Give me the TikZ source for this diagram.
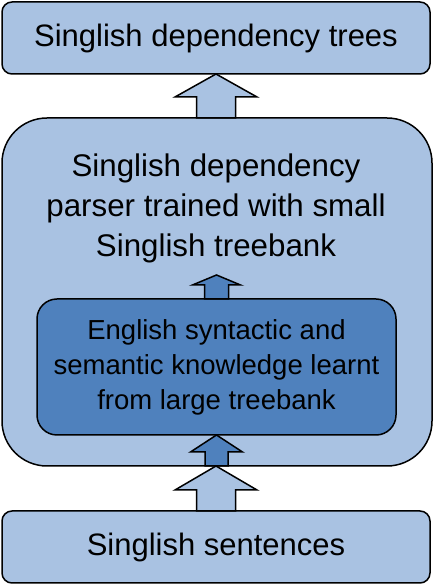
\documentclass[tikz,border=0pt]{standalone}
\usepackage{fontspec}
\setmainfont{Liberation Sans}
\usetikzlibrary{calc}
\definecolor{lightblue}{RGB}{169,194,226}
\definecolor{darkblue}{RGB}{79,129,189}
\tikzset{
  box/.style={draw=black,line width=1.5pt,fill=lightblue,inner sep=0pt,outer sep=0pt,align=center},
  lightarrow/.style={draw=black,line width=1.5pt,fill=lightblue,line join=miter},
  darkarrow/.style={draw=black,line width=1.5pt,fill=darkblue,line join=miter}
}
\begin{document}
\begin{tikzpicture}[x=1pt,y=1pt]
	\useasboundingbox (0,0) rectangle (434,586);
	% boxes
	\node[box,rounded corners=10pt,minimum width=428pt,minimum height=72pt,
		font=\fontsize{31}{40}\selectfont] (trees) at (216,548) {Singlish dependency trees};
	\node[box,rounded corners=45pt,minimum width=430pt,minimum height=348pt] (parser) at (217,294) {};
	\node[align=center,font=\fontsize{31.3}{40}\selectfont] (parsertext) at (216,378)
		{Singlish dependency\\parser trained with small\\Singlish treebank};
	\node[box,fill=darkblue,rounded corners=20pt,minimum width=359pt,minimum height=136pt,
		font=\fontsize{27.5}{35}\selectfont] (english) at (216.5,219)
		{English syntactic and\\semantic knowledge learnt\\from large treebank};
	\node[box,rounded corners=10pt,minimum width=428pt,minimum height=72pt,
		font=\fontsize{31}{40}\selectfont] (sentences) at (216,39) {Singlish sentences};
	\coordinate (tip) at (216.5,311);
	% arrows
	\draw[lightarrow] ($(sentences.north)+(-19.5,0)$) -- ++(0,21) -- ++(-21.5,0)
		-- ($(parser.south)+(-1,0)$) -- ($(sentences.north)+(41,21)$) -- ++(-21.5,0)
		-- ($(sentences.north)+(19.5,0)$) -- cycle;
	\draw[darkarrow] ($(parser.south)+(-12,0)$) -- ++(0,14) -- ++(-14.5,0)
		-- (english.south) -- ($(parser.south)+(25.5,14)$) -- ++(-14.5,0)
		-- ($(parser.south)+(11,0)$) -- cycle;
	\draw[darkarrow] ($(english.north)+(-12,0)$) -- ++(0,14) -- ++(-12,0)
		-- (tip) -- ($(english.north)+(24,14)$) -- ++(-12,0)
		-- ($(english.north)+(12,0)$) -- cycle;
	\draw[lightarrow] ($(parser.north)+(-20.5,0)$) -- ++(0,21) -- ++(-21.5,0)
		-- (trees.south) -- ($(parser.north)+(40,21)$) -- ++(-21.5,0)
		-- ($(parser.north)+(18.5,0)$) -- cycle;
\end{tikzpicture}
\end{document}
